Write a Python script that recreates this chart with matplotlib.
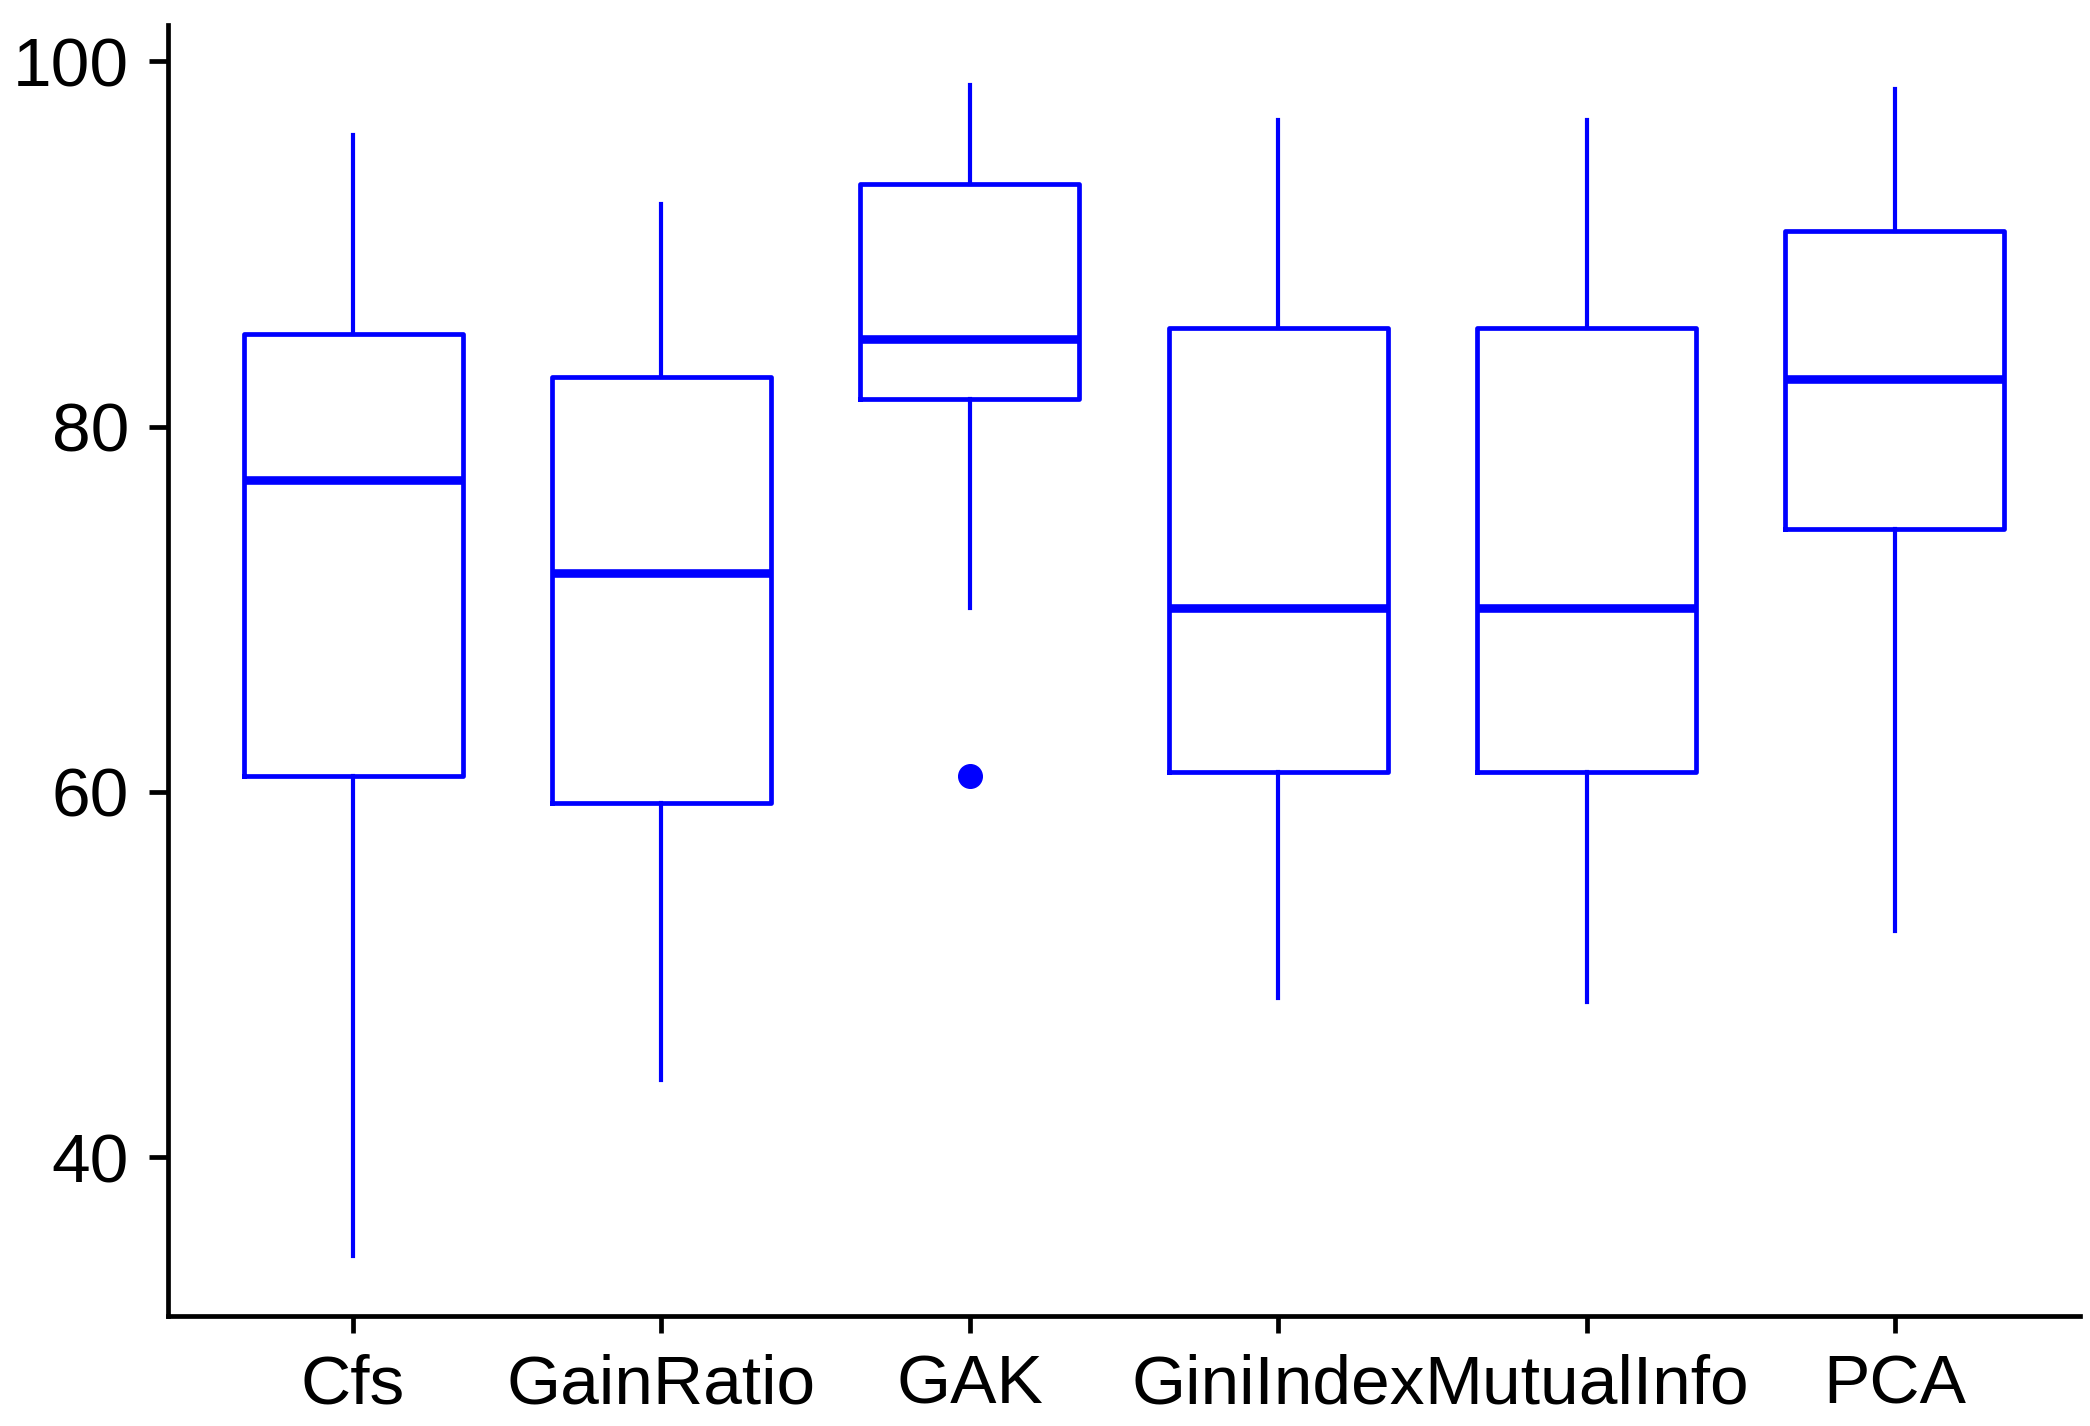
import matplotlib.pyplot as plt

methods = ["Cfs", "GainRatio", "GAK", "GiniIndex", "MutualInfo", "PCA"]
whisker_low = [34.6, 44.2, 70.1, 48.7, 48.5, 52.4]
q1 = [60.9, 59.4, 81.5, 61.1, 61.1, 74.4]
median = [77.1, 72.0, 84.8, 70.1, 70.1, 82.6]
q3 = [85.1, 82.7, 93.3, 85.4, 85.4, 90.7]
whisker_high = [96.0, 92.2, 98.7, 96.8, 96.8, 98.5]
outliers = [[], [], [60.9], [], [], []]

plt.rcParams['font.family'] = ['Liberation Sans', 'DejaVu Sans']

stats = []
for i in range(len(methods)):
	stats.append(dict(label=methods[i], whislo=whisker_low[i], q1=q1[i], med=median[i],
					  q3=q3[i], whishi=whisker_high[i], fliers=outliers[i]))

fig = plt.figure(figsize=(20.9, 14.26), dpi=100)
ax = fig.add_axes([0.0804, 0.0771, 0.9148, 0.9054])

blue = "#0000FF"
ax.bxp(stats, positions=range(1, 7), widths=0.71, showcaps=False,
	   boxprops=dict(color=blue, linewidth=3.4),
	   whiskerprops=dict(color=blue, linewidth=3.0),
	   medianprops=dict(color=blue, linewidth=6.2, solid_capstyle='butt'),
	   flierprops=dict(marker='o', markerfacecolor=blue, markeredgecolor=blue, markersize=17))

ax.set_xlim(0.4, 6.6)
ax.set_ylim(31.3, 102.0)
ax.set_yticks([40, 60, 80, 100])

for side in ["top", "right"]:
	ax.spines[side].set_visible(False)
for side in ["left", "bottom"]:
	ax.spines[side].set_linewidth(3.4)
	ax.spines[side].set_color("black")

ax.tick_params(axis='both', labelsize=50, width=3.4, colors='black')
ax.tick_params(axis='x', pad=15, length=12)
ax.tick_params(axis='y', pad=14, length=14)

fig.savefig("out.png")
